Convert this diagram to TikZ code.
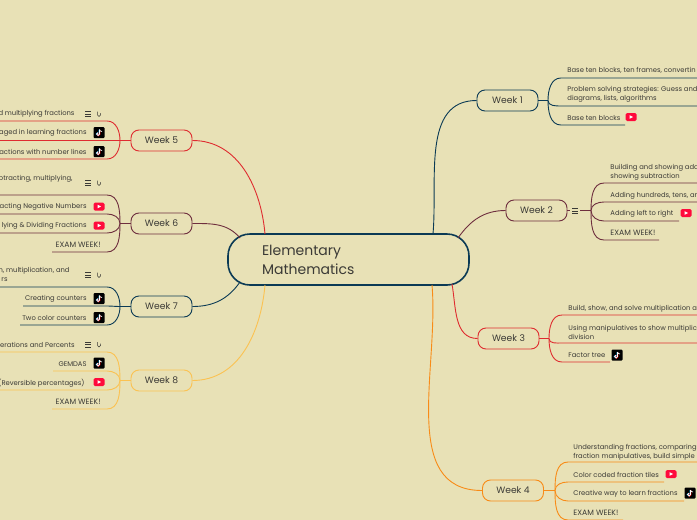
\documentclass[tikz,border=0pt]{standalone}
\usepackage{fontspec}
\setmainfont{Poppins}
\definecolor{paper}{HTML}{E8E1B6}
\definecolor{navy}{HTML}{0B3A55}
\definecolor{ink}{HTML}{3B3A36}
\definecolor{redline}{HTML}{DF2C30}
\definecolor{wine}{HTML}{6E2E3E}
\definecolor{gold}{HTML}{FBC252}
\definecolor{tangerine}{HTML}{F88B17}
\definecolor{ytred}{HTML}{FF0A3C}
\tikzset{
  rootbox/.style={draw=navy,line width=1.6pt,rounded corners=22pt,minimum width=241pt,minimum height=51pt,
    inner sep=0pt,text width=173pt,align=left,text=ink,font=\fontsize{14}{19}\selectfont},
  weekbox/.style={draw=#1,line width=.9pt,rounded corners=8pt,minimum width=61pt,minimum height=21pt,
    inner sep=0pt,text=ink,font=\fontsize{9.2}{11}\selectfont},
  leaf/.style={text=ink,inner sep=0pt,yshift=-.6pt,font=\fontsize{6.8}{9}\selectfont},
  leafl/.style={leaf,anchor=west},
  leafr/.style={leaf,anchor=east},
  examfont/.style={font=\fontsize{7.7}{9}\selectfont},
  yt/.pic={\fill[ytred,rounded corners=1.5pt] (-5.5,-4) rectangle (5.5,4);
    \fill[white] (-1.5,-1.8) -- (2,0) -- (-1.5,1.8) -- cycle;},
  tknote/.pic={\draw[line width=.8pt,pic actions] (.5,-3) -- (.5,1.5) to[out=-90,in=0] (-.9,2.9)
      to[out=180,in=-90] (-2.3,1.5) to[out=90,in=180] (-.9,.1);},
  tk/.pic={\fill[black,rounded corners=1pt] (-5.5,-5.5) rectangle (5.5,5.5);
    \pic[cyan] at (-.4,0) {tknote};
    \pic[red] at (.4,.3) {tknote};
    \pic[white] at (0,.1) {tknote};
    \draw[white,line width=.7pt] (.5,-3) to[out=-90,in=180] (3,-1);},
  menuicon/.pic={\draw[ink,line width=.5pt] (-3,-2.5) -- (3,-2.5) (-3,0) -- (3,0) (-3,2.5) -- (3,2.5);},
  clipicon/.pic={\draw[ink,line width=.5pt] (-1.5,-2.5) -- (-1.5,1) to[out=-90,in=-90,looseness=1.6] (1.5,1) -- (1.5,-1);}
}
\begin{document}
\begin{tikzpicture}[x=1pt,y=-1pt,line width=.9pt]
  \path[use as bounding box,fill=paper] (0,0) rectangle (697,520);
  \node[rootbox] (root) at (348.5,259.5) {\raisebox{-1pt}{Elementary}\\\raisebox{-1pt}{Mathematics}};
  \node[weekbox=navy] (week1) at (507.5,100.5) {Week 1};
  \node[weekbox=wine] (week2) at (536.5,210.5) {Week 2};
  \node[weekbox=redline] (week3) at (508.5,338.5) {Week 3};
  \node[weekbox=tangerine] (week4) at (513,490.5) {Week 4};
  \node[weekbox=redline] (week5) at (161.5,140.5) {Week 5};
  \node[weekbox=wine] (week6) at (161.5,223.5) {Week 6};
  \node[weekbox=navy] (week7) at (161.5,306.5) {Week 7};
  \node[weekbox=gold] (week8) at (161.5,380.5) {Week 8};

  \coordinate (r1) at (433,234);
  \coordinate (r2) at (458,238);
  \coordinate (r3) at (452,284);
  \coordinate (r4) at (432,285);
  \coordinate (r5) at (265,234);
  \coordinate (r6) at (240,238);
  \coordinate (r7) at (240,282);
  \coordinate (r8) at (265,285);
  \draw[navy] (week1.west) to[out=180,in=85] (r1);
  \draw[wine] (week2.west) to[out=180,in=55] (r2);
  \draw[redline] (week3.west) to[out=180,in=-80] (r3);
  \draw[tangerine] (week4.west) to[out=180,in=-85] (r4);
  \draw[redline] (week5.east) to[out=0,in=95] (r5);
  \draw[wine] (week6.east) to[out=0,in=130] (r6);
  \draw[navy] (week7.east) to[out=0,in=-125] (r7);
  \draw[gold] (week8.east) to[out=0,in=-95] (r8);

  \coordinate (b1) at (548,100.5);
  \coordinate (b2) at (591,210.5);
  \coordinate (b3) at (549,338.5);
  \coordinate (b4) at (555,490.5);
  \coordinate (b5) at (120,140.5);
  \coordinate (b6) at (120,223.5);
  \coordinate (b7) at (120,306.5);
  \coordinate (b8) at (120,380.5);
  \coordinate (m2) at (580,210.5);
  \coordinate (s2) at (569.5,210.5);
  \draw[navy] (week1.east) -- (b1);
  \draw[wine] (m2) -- (b2);
  \draw[wine] (week2.east) -- (s2);
  \draw[redline] (week3.east) -- (b3);
  \draw[tangerine] (week4.east) -- (b4);
  \draw[redline] (week5.west) -- (b5);
  \draw[wine] (week6.west) -- (b6);
  \draw[navy] (week7.west) -- (b7);
  \draw[gold] (week8.west) -- (b8);

  \foreach \n/\o/\y/\e in {a/90/78/697,b/-90/106/697,c/-90/125/625}{
    \coordinate (k1\n) at (561,\y); \coordinate (e1\n) at (\e,\y);
    \draw[navy] (b1) to[out=\o,in=180] (k1\n) -- (e1\n);}
  \foreach \n/\o/\y/\e in {a/90/183/697,b/90/202/697,c/-90/221/679,d/-90/240/659}{
    \coordinate (k2\n) at (604,\y); \coordinate (e2\n) at (\e,\y);
    \draw[wine] (b2) to[out=\o,in=180] (k2\n) -- (e2\n);}
  \foreach \n/\o/\y/\e in {a/90/315/697,b/-90/343/697,c/-90/362/610}{
    \coordinate (k3\n) at (562,\y); \coordinate (e3\n) at (\e,\y);
    \draw[redline] (b3) to[out=\o,in=180] (k3\n) -- (e3\n);}
  \foreach \n/\o/\y/\e in {a/90/462/697,b/90/482/664,c/-90/501/684,d/-90/520/623}{
    \coordinate (k4\n) at (568,\y); \coordinate (e4\n) at (\e,\y);
    \draw[tangerine] (b4) to[out=\o,in=180] (k4\n) -- (e4\n);}
  \foreach \n/\o/\y/\e in {a/90/121/0,b/180/140.5/0,c/-90/159/0}{
    \coordinate (k5\n) at (107,\y); \coordinate (e5\n) at (\e,\y);
    \draw[redline] (b5) to[out=\o,in=0] (k5\n) -- (e5\n);}
  \foreach \n/\o/\y/\e in {a/90/195/0,b/90/214/0,c/-90/233/0,d/-90/252/52}{
    \coordinate (k6\n) at (107,\y); \coordinate (e6\n) at (\e,\y);
    \draw[wine] (b6) to[out=\o,in=0] (k6\n) -- (e6\n);}
  \foreach \n/\o/\y/\e in {a/90/287/0,b/180/306/23,c/-90/325/20}{
    \coordinate (k7\n) at (107,\y); \coordinate (e7\n) at (\e,\y);
    \draw[navy] (b7) to[out=\o,in=0] (k7\n) -- (e7\n);}
  \foreach \n/\o/\y/\e in {a/90/352/0,b/90/371/53,c/-90/390/0,d/-90/409/52}{
    \coordinate (k8\n) at (107,\y); \coordinate (e8\n) at (\e,\y);
    \draw[gold] (b8) to[out=\o,in=0] (k8\n) -- (e8\n);}

  \node[leafl] (t1a) at (567,70) {Base ten blocks, ten frames, convertin};
  \node[leafl,align=left] (t1b) at (567,93.5) {Problem solving strategies: Guess and\\diagrams, lists, algorithms};
  \node[leafl] (t1c) at (567,117) {Base ten blocks};
  \node[leafl,align=left] (t2a) at (610,171.5) {Building and showing add\\showing subtraction};
  \node[leafl] (t2b) at (610,195) {Adding hundreds, tens, an};
  \node[leafl] (t2c) at (610,213) {Adding left to right};
  \node[leafl,examfont] (t2d) at (610,232) {EXAM WEEK!};
  \node[leafl] (t3a) at (568,308) {Build, show, and solve multiplication a};
  \node[leafl,align=left] (t3b) at (568,331.5) {Using manipulatives to show multiplic\\division};
  \node[leafl] (t3c) at (568,354.5) {Factor tree};
  \node[leafl,align=left] (t4a) at (573,451.5) {Understanding fractions, comparing\\fraction manipulatives, build simple};
  \node[leafl] (t4b) at (573,474) {Color coded fraction tiles};
  \node[leafl] (t4c) at (573,493) {Creative way to learn fractions};
  \node[leafl,examfont] (t4d) at (573,512) {EXAM WEEK!};
  \node[leafr] (t5a) at (75,113.5) {d multiplying fractions};
  \node[leafr] (t5b) at (87,132.5) {aged in learning fractions};
  \node[leafr] (t5c) at (87,151.5) {ractions with number lines};
  \node[leafr] (t6a) at (73,178.5) {btracting, multiplying,};
  \node[leafr] (t6b) at (87,206.5) {racting Negative Numbers};
  \node[leafr] (t6c) at (87,225.5) {lying \& Dividing Fractions};
  \node[leafr,examfont] (t6d) at (101,244.5) {EXAM WEEK!};
  \node[leafr] (t7a) at (70,270.5) {n, multiplication, and};
  \node[leafr] (t7b) at (8,279.5) {rs};
  \node[leafr] (t7c) at (87,298.5) {Creating counters};
  \node[leafr] (t7d) at (87,317.5) {Two color counters};
  \node[leafr] (t8a) at (75,344.5) {erations and Percents};
  \node[leafr] (t8b) at (87,363.5) {GEMDAS};
  \node[leafr] (t8c) at (85,382.5) {(Reversible percentages)};
  \node[leafr,examfont] (t8d) at (101,401.5) {EXAM WEEK!};

  \foreach \x/\y in {631/117,686/213,671/474,99/206.5,99/225.5,99/382}
    \pic at (\x,\y) {yt};
  \foreach \x/\y in {617/355,690/493,99/132.5,99/151.5,99/298.5,99/317.5,99/363}
    \pic at (\x,\y) {tk};
  \foreach \x/\y in {575/211,88/114,88/183,88/275,88/344.5}
    \pic at (\x,\y) {menuicon};
  \foreach \y in {114,183,275,344.5}
    \pic at (99,\y) {clipicon};
\end{tikzpicture}
\end{document}
